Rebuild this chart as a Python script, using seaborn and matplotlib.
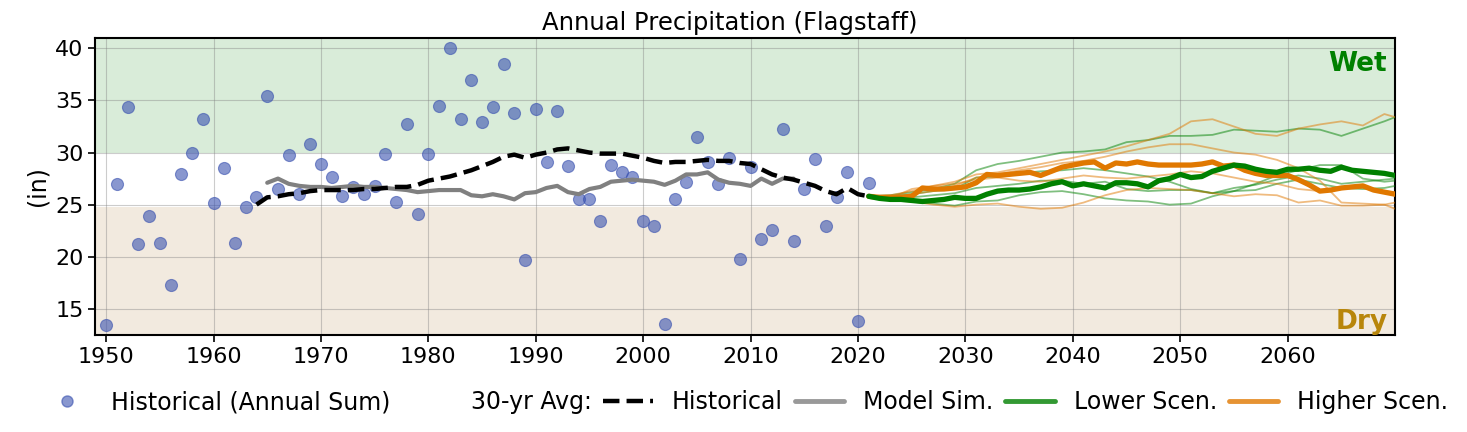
import numpy as np
import pandas as pd
import matplotlib
matplotlib.use('Agg')
import matplotlib.pyplot as plt
import seaborn as sns
from matplotlib.lines import Line2D

# observed annual totals (in), 1950-2021
hist_years = list(range(1950, 2022))
hist_precip = [13.4, 27.0, 34.4, 21.2, 23.9, 21.3, 17.3, 27.9, 30.0, 33.2,
               25.2, 28.5, 21.3, 24.8, 25.7, 35.4, 26.5, 29.8, 26.0, 30.8,
               28.9, 27.7, 25.8, 26.7, 26.0, 26.8, 29.9, 25.3, 32.7, 24.1,
               29.9, 34.5, 40.0, 33.2, 37.0, 32.9, 34.4, 38.5, 33.8, 19.7,
               34.2, 29.1, 34.0, 28.7, 25.5, 25.5, 23.4, 28.8, 28.1, 27.7,
               23.4, 22.9, 13.5, 25.5, 27.2, 31.5, 29.1, 27.0, 29.5, 19.8,
               28.6, 21.7, 22.6, 32.3, 21.5, 26.5, 29.4, 22.9, 25.7, 28.1,
               13.8, 27.1]

# 30-yr average of observations
avg_hist_years = list(range(1964, 2022))
avg_hist = [25.0, 25.7, 25.8, 26.0, 26.1, 26.3, 26.4, 26.4, 26.4, 26.4,
            26.5, 26.5, 26.6, 26.7, 26.7, 26.9, 27.3, 27.5, 27.7, 28.0,
            28.3, 28.7, 29.1, 29.6, 29.8, 29.5, 29.8, 30.0, 30.3, 30.4,
            30.2, 30.0, 29.9, 29.9, 29.9, 29.7, 29.5, 29.2, 29.0, 29.1,
            29.1, 29.2, 29.3, 29.2, 29.2, 29.0, 28.9, 28.4, 27.9, 27.6,
            27.4, 27.1, 26.8, 26.3, 26.0, 26.6, 26.0, 25.8]

# 30-yr average of model simulation
avg_model_years = list(range(1965, 2015))
avg_model = [27.1, 27.5, 27.0, 26.8, 26.7, 26.7, 26.6, 26.7, 26.8, 26.7,
             26.7, 26.6, 26.5, 26.4, 26.2, 26.3, 26.4, 26.4, 26.4, 25.9,
             25.8, 26.0, 25.8, 25.5, 26.1, 26.2, 26.6, 26.8, 26.2, 26.0,
             26.5, 26.7, 27.2, 27.3, 27.4, 27.3, 27.2, 26.9, 27.3, 27.9,
             27.9, 28.1, 27.4, 27.1, 27.0, 26.8, 27.5, 27.0, 27.5, 27.5]

# scenario means, 2021-2070
proj_years = list(range(2021, 2071))
lower_avg = [25.8, 25.6, 25.5, 25.5, 25.4, 25.3, 25.4, 25.5, 25.7, 25.6,
             25.6, 26.0, 26.3, 26.4, 26.4, 26.5, 26.7, 27.0, 27.2, 26.8,
             27.0, 26.8, 26.6, 27.1, 27.1, 27.0, 26.7, 27.3, 27.5, 27.9,
             27.6, 27.7, 28.2, 28.5, 28.8, 28.7, 28.4, 28.2, 28.1, 28.4,
             28.4, 28.5, 28.3, 28.2, 28.6, 28.3, 28.2, 28.1, 28.0, 27.8]
higher_avg = [25.8, 25.7, 25.7, 25.7, 25.8, 26.6, 26.5, 26.5, 26.6, 26.7,
              27.1, 27.9, 27.8, 27.9, 28.0, 28.1, 27.8, 28.2, 28.6, 28.8,
              29.0, 29.1, 28.5, 29.0, 28.9, 29.1, 28.9, 28.8, 28.8, 28.8,
              28.8, 28.9, 29.1, 28.7, 28.8, 28.3, 28.0, 27.8, 27.8, 27.8,
              27.4, 26.9, 26.3, 26.4, 26.6, 26.7, 26.8, 26.4, 26.2, 26.0]

# individual model runs (every 2nd year)
run_years = list(range(2021, 2071, 2)) + [2070]
lower_runs = [
    [25.8, 25.9, 26.2, 26.5, 27.0, 28.3, 28.9, 29.2, 29.6, 30.0, 30.1, 30.3, 31.0,
     31.2, 31.6, 31.6, 31.7, 32.2, 32.1, 32.0, 32.3, 32.2, 31.6, 32.3, 33.0, 33.4],
    [25.8, 25.8, 26.0, 26.3, 26.5, 27.6, 27.7, 28.0, 28.2, 28.3, 28.5, 28.3, 28.0,
     27.7, 27.2, 26.5, 26.1, 26.3, 27.0, 27.8, 28.3, 28.8, 28.8, 27.5, 27.2, 27.3],
    [25.8, 25.6, 25.7, 25.9, 26.1, 26.6, 26.8, 27.0, 27.3, 27.3, 27.0, 27.2, 26.5,
     26.3, 26.4, 26.4, 26.1, 26.6, 26.9, 27.4, 27.8, 27.5, 27.0, 27.2, 27.4, 27.5],
    [25.8, 25.5, 25.3, 25.1, 24.9, 25.3, 25.4, 25.9, 26.2, 26.3, 26.0, 25.6, 25.4,
     25.3, 25.0, 25.1, 25.8, 26.3, 26.4, 27.0, 27.4, 27.0, 26.6, 26.5, 26.6, 26.8],
]
higher_runs = [
    [25.8, 25.9, 26.3, 26.8, 27.2, 27.9, 28.1, 28.5, 28.9, 29.3, 29.7, 30.1, 30.6,
     31.2, 31.8, 33.0, 33.2, 32.5, 31.8, 31.6, 32.3, 32.7, 33.0, 32.6, 33.7, 33.4],
    [25.8, 25.7, 26.0, 26.3, 26.8, 27.6, 27.9, 28.3, 28.6, 29.0, 29.2, 29.6, 30.1,
     30.5, 30.8, 30.8, 30.4, 30.0, 29.8, 29.3, 28.5, 27.3, 25.2, 25.1, 25.0, 24.6],
    [25.8, 25.6, 26.5, 26.8, 27.0, 27.4, 27.6, 27.3, 27.2, 27.5, 27.8, 27.6, 27.5,
     27.7, 27.9, 28.2, 28.0, 27.6, 27.2, 27.0, 26.5, 26.3, 26.5, 26.7, 26.3, 26.2],
    [25.8, 25.4, 25.3, 25.0, 24.8, 25.0, 25.1, 24.8, 24.6, 24.7, 25.2, 25.9, 26.4,
     26.6, 26.5, 26.4, 26.1, 25.8, 26.0, 25.9, 25.2, 25.4, 24.9, 24.9, 25.0, 25.2],
]

wet_limit = 30.0
dry_limit = 24.8

dot_color = '#3a52b0'
green = '#008000'
orange = '#e07800'

sns.set_style('ticks')
plt.rcParams['font.family'] = ['DejaVu Sans']
plt.rcParams['text.color'] = 'black'
plt.rcParams['axes.labelcolor'] = 'black'
plt.rcParams['xtick.color'] = 'black'
plt.rcParams['ytick.color'] = 'black'

fig = plt.figure(figsize=(14.67, 4.32), dpi=100)
ax = fig.add_axes([0.065, 0.225, 0.886, 0.687])

ax.axhspan(wet_limit, 50, color='green', alpha=0.15, lw=0, zorder=0)
ax.axhspan(0, dry_limit, color='#d2b48c', alpha=0.28, lw=0, zorder=0)
ax.grid(True, color='gray', alpha=0.4, lw=0.8, zorder=0.5)
ax.set_axisbelow(True)

sns.scatterplot(x=hist_years, y=hist_precip, ax=ax, color=dot_color, alpha=0.6,
                s=75, edgecolor=dot_color, linewidth=0.8, zorder=2)

for run in lower_runs:
    sns.lineplot(x=run_years, y=run, ax=ax, color=green, alpha=0.5, lw=1.3, zorder=3)
for run in higher_runs:
    sns.lineplot(x=run_years, y=run, ax=ax, color=orange, alpha=0.5, lw=1.3, zorder=3)

sns.lineplot(x=avg_model_years, y=avg_model, ax=ax, color='gray', lw=3, zorder=4)
sns.lineplot(x=avg_hist_years, y=avg_hist, ax=ax, color='black', lw=3.2,
             linestyle='--', zorder=5)
sns.lineplot(x=proj_years, y=higher_avg, ax=ax, color=orange, lw=3.8, zorder=6)
sns.lineplot(x=proj_years, y=lower_avg, ax=ax, color=green, lw=3.8, zorder=7)

ax.text(0.994, 0.955, 'Wet', transform=ax.transAxes, ha='right', va='top',
        color='green', fontsize=19, fontweight='bold')
ax.text(0.994, 0.0, 'Dry', transform=ax.transAxes, ha='right', va='bottom',
        color='darkgoldenrod', fontsize=19, fontweight='bold')

ax.set_xlim(1949, 2070)
ax.set_ylim(12.5, 41)
ax.set_xticks(range(1950, 2061, 10))
ax.set_yticks(range(15, 41, 5))
ax.tick_params(labelsize=16, width=1.2, length=5, colors='black')
for sp in ax.spines.values():
    sp.set_linewidth(1.5)
    sp.set_color('black')
ax.set_ylabel('(in)', fontsize=17, color='black')
ax.set_xlabel('')
ax.set_title('Annual Precipitation (Flagstaff)', fontsize=17.5, x=0.488, color='black')

handles = [
    Line2D([], [], marker='o', linestyle='none', color=dot_color, alpha=0.6, markersize=8),
    Line2D([], [], linestyle='none'),
    Line2D([], [], color='black', lw=3.2, linestyle='--'),
    Line2D([], [], color='gray', lw=3.5, alpha=0.8),
    Line2D([], [], color=green, lw=3.5, alpha=0.8),
    Line2D([], [], color=orange, lw=3.5, alpha=0.8),
]
labels = ['Historical (Annual Sum)', '30-yr Avg:', 'Historical', 'Model Sim.',
          'Lower Scen.', 'Higher Scen.']
leg = ax.legend(handles, labels, loc='upper center', bbox_to_anchor=(0.5, -0.115),
                ncol=6, frameon=False, fontsize=17, handlelength=2.1,
                columnspacing=0.5, handletextpad=0.8)
for t in leg.get_texts():
    t.set_color('black')

fig.savefig('out.png', dpi=100)
